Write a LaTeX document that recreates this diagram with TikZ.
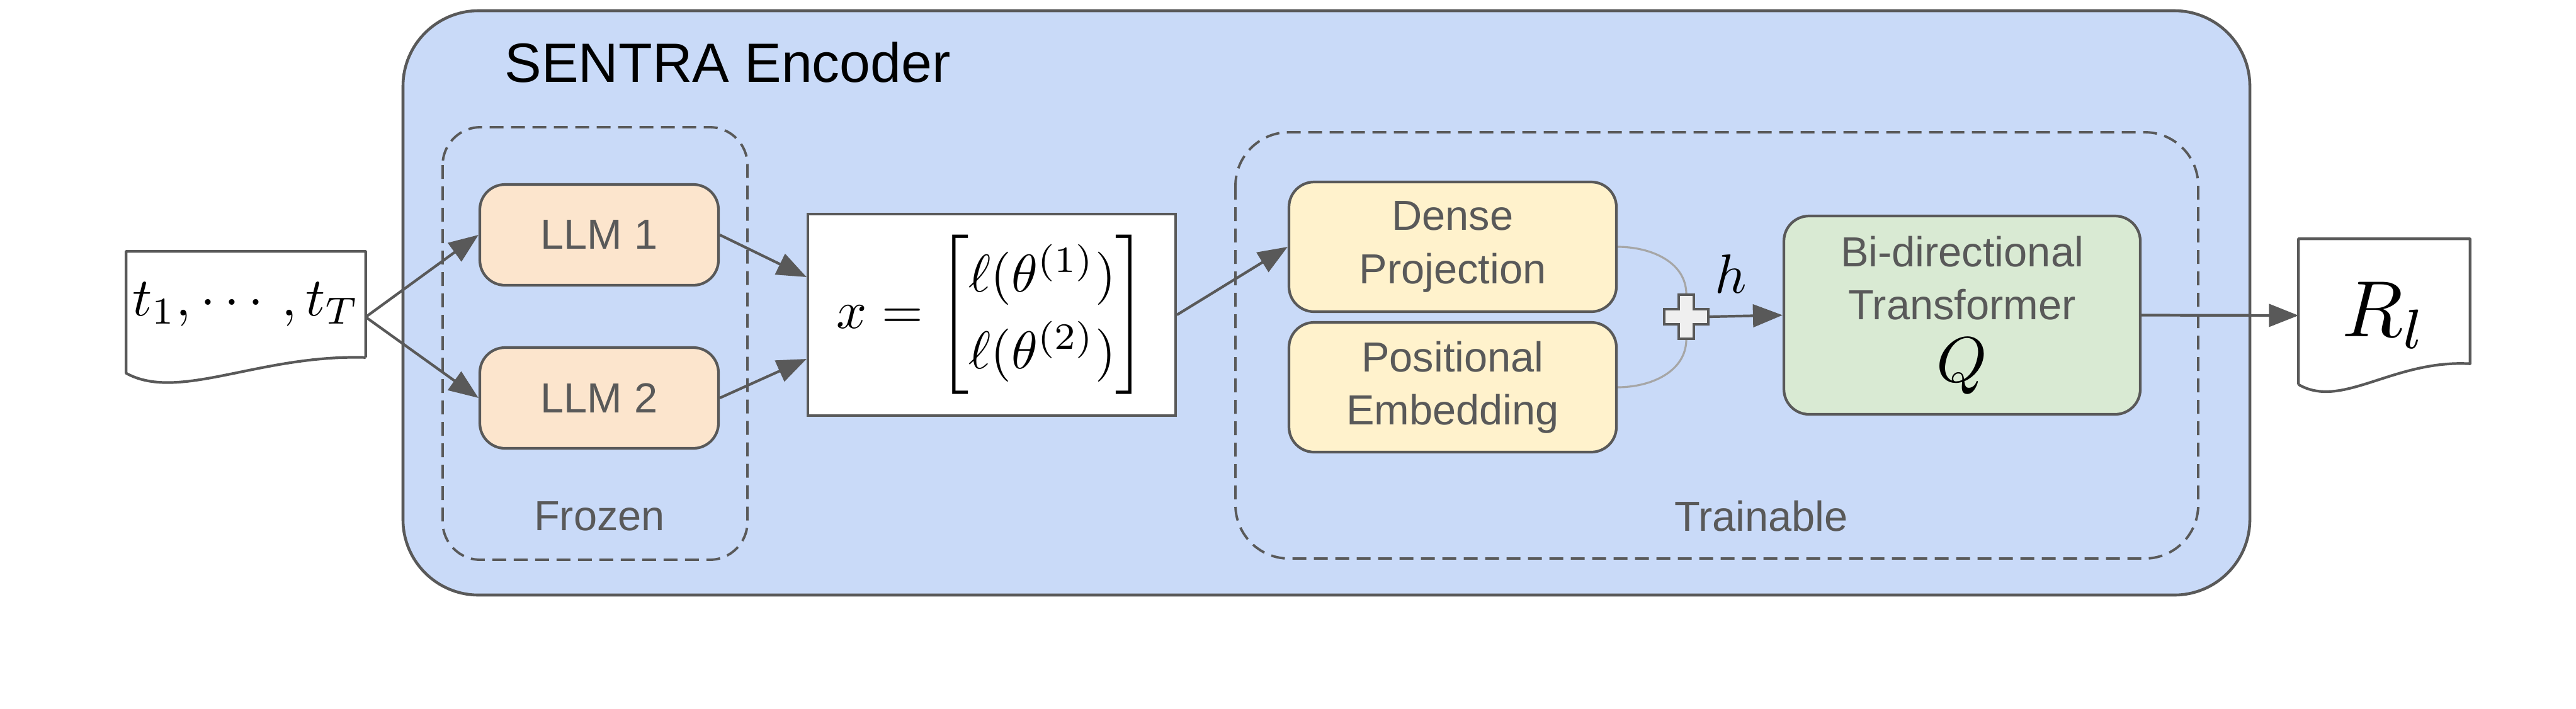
\documentclass[tikz,border=0pt]{standalone}
\usepackage{amsmath}
\usepackage{graphicx}
\usepackage[no-math]{fontspec}
\setmainfont{Liberation Sans}
\usepackage{xcolor}
\usepackage{tikz}
\usetikzlibrary{arrows.meta,calc,positioning}

\definecolor{encfill}{HTML}{C9DAF8}
\definecolor{llmfill}{HTML}{FCE5CD}
\definecolor{projfill}{HTML}{FFF2CC}
\definecolor{tffill}{HTML}{D9EAD3}
\definecolor{edgegray}{HTML}{595959}
\definecolor{curvegray}{HTML}{A6A6A6}
\definecolor{plusfill}{HTML}{EFEFEF}

\newcommand{\lblfont}{\fontsize{19}{24}\selectfont}
\newcommand{\bigmath}[2]{\scalebox{#1}{\normalsize$#2$}}

\tikzset{
    block/.style={draw=edgegray, line width=1.2pt, rounded corners=0.4cm, text=edgegray, font=\lblfont, align=center},
    llm/.style={block, fill=llmfill, minimum width=3.79cm, minimum height=1.60cm},
    proj/.style={block, fill=projfill, minimum width=5.20cm, minimum height=2.06cm},
    arrow/.style={draw=edgegray, line width=1.2pt, -{Triangle[length=0.47cm,width=0.36cm]}},
    dashbox/.style={draw=edgegray, line width=1.1pt, dash pattern=on 0.22cm off 0.12cm},
    docline/.style={draw=edgegray, line width=1.2pt, line join=round}
}

\begin{document}
\begin{tikzpicture}
    \useasboundingbox (0,0) rectangle (40.91,-11.25);

    % Encoder block
    \draw[draw=edgegray, line width=1.3pt, fill=encfill, rounded corners=1.2cm] (6.40,-0.17) rectangle (35.73,-9.45);
    \node[anchor=west, inner sep=0, font=\fontsize{25}{30}\selectfont] (title) at (8.01,-0.99) {SENTRA Encoder};

    % Frozen and trainable parts
    \draw[dashbox, rounded corners=0.6cm] (7.03,-2.02) rectangle (11.87,-8.89);
    \draw[dashbox, rounded corners=0.85cm] (19.62,-2.10) rectangle (34.91,-8.87);
    \node[text=edgegray, font=\lblfont] (frozen) at (9.52,-8.20) {Frozen};
    \node[text=edgegray, font=\lblfont] (trainable) at (27.97,-8.20) {Trainable};

    % Input tokens
    \node[inner sep=0, minimum width=3.79cm, minimum height=1.67cm] (tin) at (3.905,-4.835) {\bigmath{2.45}{t_1,\cdots,t_T}};
    \draw[docline] (tin.south east) -- (tin.north east) -- (tin.north west) -- ($(tin.south west)+(0,-0.25)$)
        .. controls ($(tin.south west)+(0.84,-0.71)$) and ($(tin.south east)+(-1.70,0.05)$) .. (tin.south east);
    \coordinate (tout) at ($(tin.east)+(0,-0.2)$);

    % LLMs
    \foreach \i/\y in {1/-3.73,2/-6.32}
    {
        \node[llm] (llm\i) at (9.515,\y) {LLM \i};
        \draw[arrow] (tout) -- (llm\i.west);
    }

    % Stacked features
    \node[draw=edgegray, line width=1.2pt, fill=white, minimum width=5.84cm, minimum height=3.20cm] (xvec) at (15.75,-5.00)
        {\renewcommand{\arraystretch}{1.2}\bigmath{2.4}{x = \begin{bmatrix} \ell(\theta^{(1)}) \\ \ell(\theta^{(2)}) \end{bmatrix}}};
    \draw[arrow] (llm1.east) -- ([yshift=0.6cm]xvec.west);
    \draw[arrow] (llm2.east) -- ([yshift=-0.7cm]xvec.west);

    % Projection and position
    \node[proj] (dense) at (23.07,-3.92) {Dense\\Projection};
    \node[proj] (posemb) at (23.07,-6.15) {Positional\\Embedding};
    \draw[arrow] (xvec.east) -- (dense.west);

    % Sum
    \node[minimum size=0.7cm, inner sep=0] (plus) at (26.78,-5.03) {};
    \draw[curvegray, line width=0.9pt] (dense.east) to[out=0,in=90] (plus.north);
    \draw[curvegray, line width=0.9pt] (posemb.east) to[out=0,in=-90] (plus.south);
    \draw[draw=edgegray, fill=plusfill, line width=1.2pt] ($(plus)+(-0.12,0.35)$) -- ++(0.24,0) -- ++(0,-0.23) -- ++(0.23,0) -- ++(0,-0.24) -- ++(-0.23,0)
        -- ++(0,-0.23) -- ++(-0.24,0) -- ++(0,0.23) -- ++(-0.23,0) -- ++(0,0.24) -- ++(0.23,0) -- cycle;

    % Transformer
    \node[block, fill=tffill, minimum width=5.66cm, minimum height=3.15cm] (tf) at (31.16,-5.005)
        {Bi-directional\\Transformer\\[4pt]{\color{black}\bigmath{2.9}{Q}}};
    \draw[arrow] (plus.east) -- (tf.west) node[pos=0.3, above=0.35cm, inner sep=0] (hlbl) {\bigmath{2.5}{h}};

    % Output
    \node[inner sep=0, minimum width=2.71cm, minimum height=2.42cm] (rout) at (37.865,-5.01) {\bigmath{3.6}{R_l}};
    \draw[docline] ($(rout.south west)+(0,0.12)$) -- (rout.north west) -- (rout.north east) -- ($(rout.south east)+(0,0.45)$)
        .. controls ($(rout.south east)+(-1.22,0.52)$) and ($(rout.south west)+(0.69,-0.28)$) .. ($(rout.south west)+(0,0.12)$);
    \draw[arrow] (tf.east) -- (rout.west);
\end{tikzpicture}
\end{document}
